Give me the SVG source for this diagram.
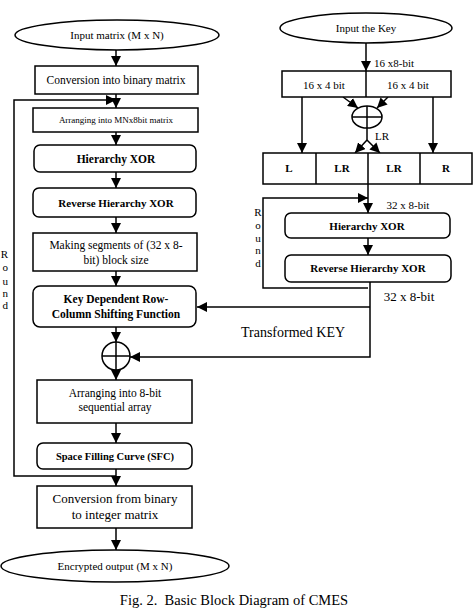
<svg xmlns="http://www.w3.org/2000/svg" width="474" height="612" viewBox="0 0 474 612">
<defs>
<marker id="ah" viewBox="0 0 10 10" refX="10" refY="5" markerWidth="10" markerHeight="10" markerUnits="userSpaceOnUse" orient="auto">
<path d="M0,0 L10,5 L0,10 z" fill="#000"/>
</marker>
</defs>
<style>
.b{fill:#fff;stroke:#000;stroke-width:1.5}
.c{fill:none;stroke:#000;stroke-width:1.5}
.a{fill:none;stroke:#000;stroke-width:1.5;marker-end:url(#ah)}
text{font-family:"Liberation Serif","Times New Roman",serif;fill:#000;text-anchor:middle}
.bd{font-weight:bold}
</style>
<rect width="474" height="612" fill="#fff"/>

<g id="connectors">
<path class="a" d="M116,50 V66"/>
<path class="a" d="M116,94 V108"/>
<path class="a" d="M116,476 H14 V100 H116"/>
<path class="a" d="M116,132 V145"/>
<path class="a" d="M116,172 V188"/>
<path class="a" d="M116,217 V233"/>
<path class="a" d="M116,271 V286"/>
<path class="a" d="M116,327 V342"/>
<path class="a" d="M116,370 V380"/>
<path class="a" d="M116,423 V443"/>
<path class="a" d="M116,469 V486"/>
<path class="a" d="M116,528 V550"/>
<path class="a" d="M366,43 V71"/>
<path class="a" d="M302,97 V153"/>
<path class="a" d="M433,97 V153"/>
<path class="a" d="M343,97 L358,108"/>
<path class="a" d="M388,97 L377,108"/>
<path class="c" d="M367,128 V140"/>
<path class="a" d="M367,140 L355,153"/>
<path class="a" d="M367,140 L380,153"/>
<path class="a" d="M368,288 H263 V198 H368"/>
<path class="a" d="M368,184 V213"/>
<path class="a" d="M368,238 V255"/>
<path class="a" d="M370,282 V357 H130"/>
<path class="a" d="M370,307 H197"/>
</g>

<g id="n_input"><ellipse class="b" cx="117" cy="35" rx="102" ry="15"/><text x="117" y="39" font-size="11">Input matrix (M x N)</text></g>
<g id="n_conv"><rect class="b" x="35" y="66" width="163" height="28"/><text x="116" y="84" font-size="11.5">Conversion into binary matrix</text></g>
<g id="n_arr"><rect class="b" x="33" y="108" width="165" height="24"/><text x="116" y="123" font-size="9">Arranging into MNx8bit matrix</text></g>
<g id="n_hx"><rect class="b" x="34" y="145" width="162" height="27" rx="6"/><text class="bd" x="116" y="163" font-size="11.5">Hierarchy XOR</text></g>
<g id="n_rhx"><rect class="b" x="33" y="188" width="163" height="29" rx="6"/><text class="bd" x="116" y="207" font-size="11">Reverse Hierarchy XOR</text></g>
<g id="n_seg"><rect class="b" x="33" y="233" width="164" height="38"/><text x="116" y="249" font-size="11.5">Making segments of (32 x 8-</text><text x="116" y="264" font-size="11.5">bit) block size</text></g>
<g id="n_kd"><rect class="b" x="33" y="286" width="163" height="41" rx="7"/><text class="bd" x="116" y="303" font-size="11.5">Key Dependent Row-</text><text class="bd" x="116" y="318" font-size="11.5">Column Shifting Function</text></g>
<g id="n_xor"><circle class="b" cx="116" cy="356" r="14"/><path class="c" d="M102,356 H130 M116,342 V370"/></g>
<g id="n_arr8"><rect class="b" x="37" y="380" width="155" height="43"/><text x="115" y="397" font-size="11.5">Arranging into 8-bit</text><text x="115" y="411" font-size="11.5">sequential array</text></g>
<g id="n_sfc"><rect class="b" x="37" y="443" width="155" height="26" rx="6"/><text class="bd" x="115" y="460" font-size="10.5">Space Filling Curve (SFC)</text></g>
<g id="n_convb"><rect class="b" x="37" y="486" width="155" height="42"/><text x="115" y="503" font-size="13">Conversion from binary</text><text x="115" y="519" font-size="13">to integer matrix</text></g>
<g id="n_out"><ellipse class="b" cx="115" cy="566" rx="114" ry="16"/><text x="115" y="570" font-size="11">Encrypted output (M x N)</text></g>

<g id="n_key"><ellipse class="b" cx="366" cy="28" rx="86" ry="15"/><text x="366" y="32" font-size="11">Input the Key</text></g>
<g id="n_split"><rect class="b" x="282" y="71" width="169" height="26"/><path class="c" d="M366,71 V97"/><text x="324" y="89" font-size="11">16 x 4 bit</text><text x="408" y="89" font-size="11">16 x 4 bit</text></g>
<g id="n_kxor"><ellipse class="b" cx="367" cy="117" rx="15" ry="11"/><path class="c" d="M352,117 H382 M367,106 V128"/></g>
<g id="n_row"><rect class="b" x="263" y="153" width="209" height="31"/><path class="c" d="M316,153 V184 M368,153 V184 M420,153 V184"/><text class="bd" x="289" y="172" font-size="11">L</text><text class="bd" x="342" y="172" font-size="11">LR</text><text class="bd" x="394" y="172" font-size="11">LR</text><text class="bd" x="446" y="172" font-size="11">R</text></g>
<g id="n_khx"><rect class="b" x="285" y="213" width="165" height="25" rx="6"/><text class="bd" x="367" y="230" font-size="11">Hierarchy XOR</text></g>
<g id="n_krhx"><rect class="b" x="285" y="255" width="166" height="27" rx="6"/><text class="bd" x="368" y="272" font-size="11">Reverse Hierarchy XOR</text></g>

<g id="labels">
<text x="394" y="67" font-size="11">16 x8-bit</text>
<text x="382" y="140" font-size="11">LR</text>
<text x="408" y="209" font-size="11">32 x 8-bit</text>
<text x="409" y="301" font-size="13">32 x 8-bit</text>
<text x="293" y="337" font-size="14">Transformed KEY</text>
<text x="258" y="216" font-size="11">R</text>
<text x="258" y="229" font-size="11">o</text>
<text x="258" y="242" font-size="11">u</text>
<text x="258" y="254" font-size="11">n</text>
<text x="258" y="267" font-size="11">d</text>
<text x="8" y="258" font-size="11" style="text-anchor:end">R</text>
<text x="8" y="271" font-size="11" style="text-anchor:end">o</text>
<text x="8" y="285" font-size="11" style="text-anchor:end">u</text>
<text x="8" y="297" font-size="11" style="text-anchor:end">n</text>
<text x="8" y="309" font-size="11" style="text-anchor:end">d</text>
<text x="234" y="605" font-size="14.5">Fig. 2.&#160; Basic Block Diagram of CMES</text>
</g>
</svg>
